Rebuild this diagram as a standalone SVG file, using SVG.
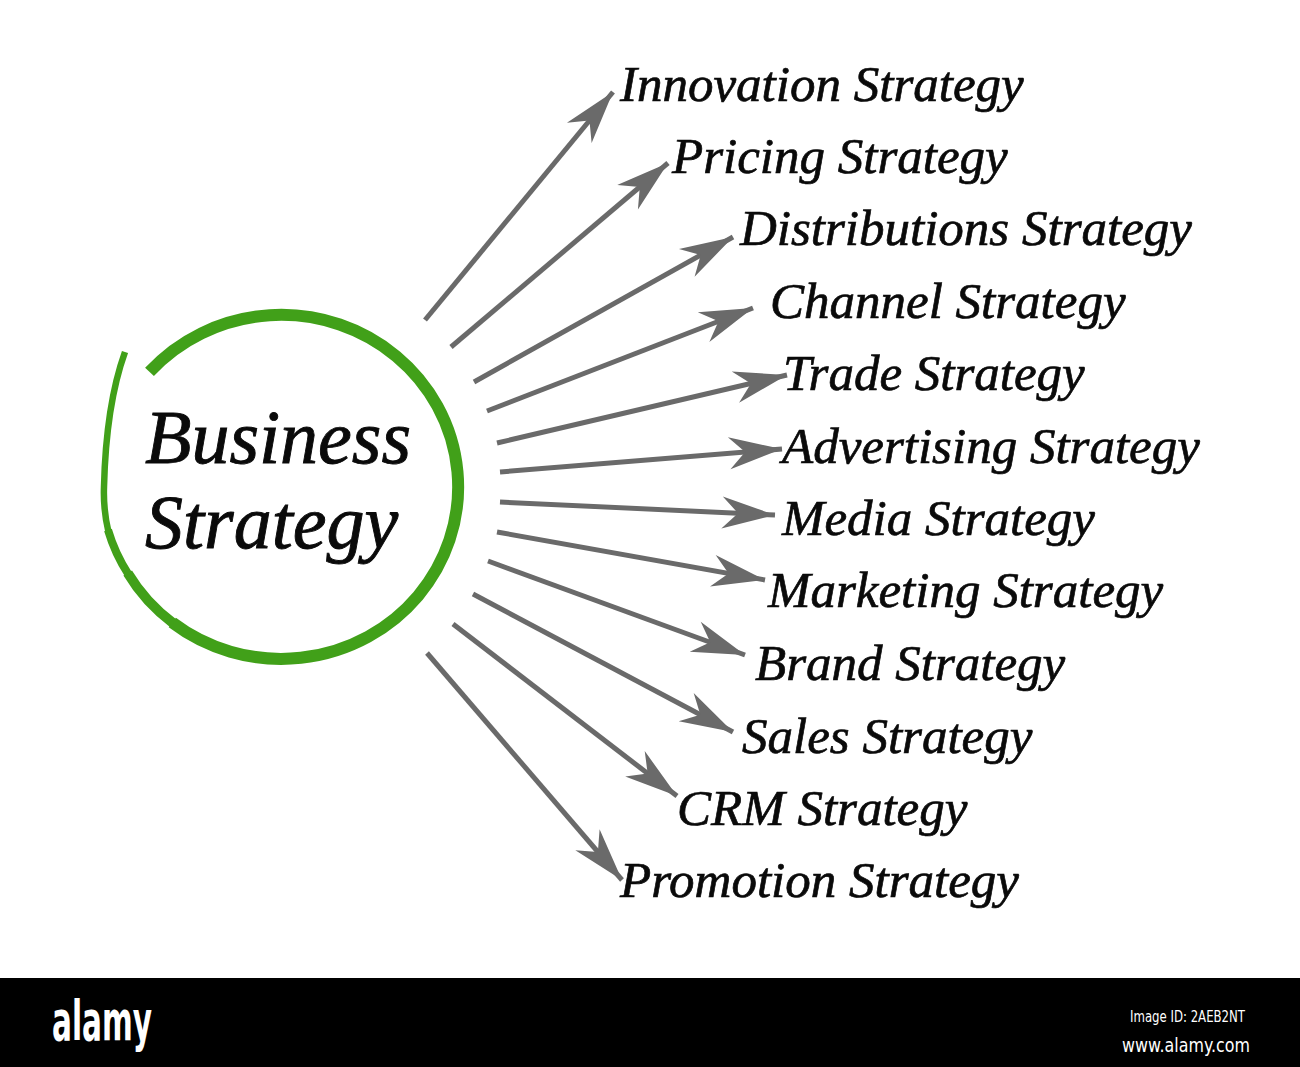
<svg xmlns="http://www.w3.org/2000/svg" width="1300" height="1067" viewBox="0 0 1300 1067">
<defs>
<style>
.lbl{font-family:"Liberation Serif","Times New Roman",serif;font-style:italic;font-size:51px;fill:#0a0a0a;stroke:#0a0a0a;stroke-width:0.7}
.title{font-family:"Liberation Serif","Times New Roman",serif;font-style:italic;font-size:76px;fill:#0a0a0a;stroke:#0a0a0a;stroke-width:0.9}
.arr{stroke:#6a6a6a;stroke-width:5;fill:none;marker-end:url(#ah)}
.ring{fill:none;stroke:#41a019;stroke-linecap:butt}
</style>
<marker id="ah" markerUnits="userSpaceOnUse" viewBox="-56 -20 60 40" refX="0" refY="0" markerWidth="60" markerHeight="40" orient="auto">
<path d="M0,0 L-53,-16 L-37,0 L-53,16 Z" fill="#6a6a6a"/>
</marker>
</defs>
<rect width="1300" height="1067" fill="#ffffff"/>
<g id="center">
<path class="ring" stroke-width="12" d="M149.5,371.9 A177 172 0 1 1 172.3,622.5"/>
<path class="ring" stroke-width="10" d="M173.5,623.4 A177 172 0 0 1 127.7,573"/>
<path class="ring" stroke-width="8" d="M128.5,574.5 A177 172 0 0 1 108,530"/>
<path class="ring" stroke-width="6.5" d="M108.5,532 A177 172 0 0 1 104,487 Q106,405 125,352"/>
<text class="title" x="145" y="463">Business</text>
<text class="title" x="145" y="548">Strategy</text>
</g>
<g id="connectors">
<line class="arr" x1="425" y1="320" x2="613" y2="92"/>
<line class="arr" x1="451" y1="347" x2="668" y2="163"/>
<line class="arr" x1="474" y1="382" x2="733" y2="237"/>
<line class="arr" x1="487" y1="411" x2="753" y2="308"/>
<line class="arr" x1="497" y1="443" x2="787" y2="375"/>
<line class="arr" x1="500" y1="472" x2="782" y2="449"/>
<line class="arr" x1="500" y1="502" x2="775" y2="515"/>
<line class="arr" x1="497" y1="532" x2="765" y2="580"/>
<line class="arr" x1="488" y1="561" x2="745" y2="655"/>
<line class="arr" x1="473" y1="594" x2="733" y2="732"/>
<line class="arr" x1="453" y1="624" x2="677" y2="796"/>
<line class="arr" x1="427" y1="653" x2="622" y2="880"/>
</g>
<g id="n1"><text class="lbl" x="620" y="101">Innovation Strategy</text></g>
<g id="n2"><text class="lbl" x="672" y="173">Pricing Strategy</text></g>
<g id="n3"><text class="lbl" x="740" y="245">Distributions Strategy</text></g>
<g id="n4"><text class="lbl" x="770" y="318">Channel Strategy</text></g>
<g id="n5"><text class="lbl" x="783" y="390">Trade Strategy</text></g>
<g id="n6"><text class="lbl" x="782" y="463">Advertising Strategy</text></g>
<g id="n7"><text class="lbl" x="782" y="535">Media Strategy</text></g>
<g id="n8"><text class="lbl" x="768" y="607">Marketing Strategy</text></g>
<g id="n9"><text class="lbl" x="755" y="680">Brand Strategy</text></g>
<g id="n10"><text class="lbl" x="742" y="753">Sales Strategy</text></g>
<g id="n11"><text class="lbl" x="677" y="825">CRM Strategy</text></g>
<g id="n12"><text class="lbl" x="620" y="897">Promotion Strategy</text></g>
<g id="footer">
<rect x="0" y="978" width="1300" height="89" fill="#000000"/>
<text x="52" y="1040" font-family="DejaVu Sans" font-weight="bold" font-size="56" fill="#ffffff" textLength="100" lengthAdjust="spacingAndGlyphs">alamy</text>
<text x="1130" y="1022" font-family="DejaVu Sans" font-size="16" fill="#ffffff" textLength="115" lengthAdjust="spacingAndGlyphs">Image ID: 2AEB2NT</text>
<text x="1122" y="1052" font-family="DejaVu Sans" font-size="20" fill="#ffffff" textLength="128" lengthAdjust="spacingAndGlyphs">www.alamy.com</text>
</g>
</svg>
